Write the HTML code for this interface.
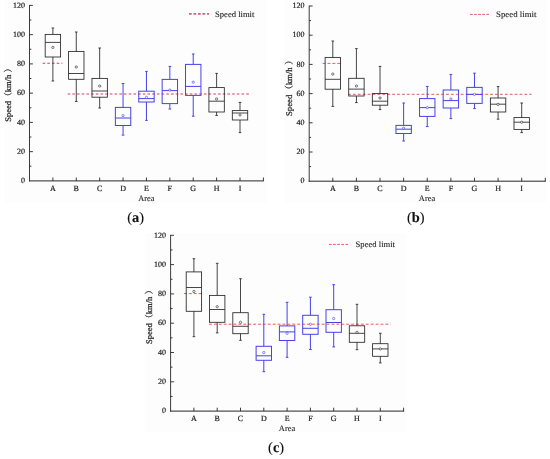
<!DOCTYPE html>
<html lang="en">
<head>
<meta charset="utf-8">
<title>Speed box plots by area</title>
<style>
html,body{margin:0;padding:0;background:#fff;}
body{width:550px;height:459px;overflow:hidden;}
svg{display:block;}
text{font-family:"Liberation Serif","Noto Serif CJK SC",serif;fill:#222;text-rendering:geometricPrecision;}
.tk{font-size:8.0px;stroke:#222;stroke-width:0.2px;}
.lb{font-size:8.4px;stroke:#222;stroke-width:0.1px;}
.yl{stroke-width:0.22px;}
.cp{font-size:14.4px;fill:#111;stroke:#111;stroke-width:0.12px;}
</style>
</head>
<body>
<svg width="550" height="459" viewBox="0 0 550 459">
<rect x="0" y="0" width="550" height="459" fill="#ffffff"/>
<rect x="4" y="0" width="263" height="202.5" fill="#fdfdfd"/>
<rect x="284.5" y="0" width="262" height="202.5" fill="#fdfdfd"/>
<rect x="145" y="233" width="261.5" height="199.5" fill="#fdfdfd"/>
<g class="chart-a">
<line x1="29.50" y1="5.00" x2="29.50" y2="181.40" stroke="#262626" stroke-width="0.9"/>
<line x1="29.00" y1="180.90" x2="263.90" y2="180.90" stroke="#262626" stroke-width="1.0"/>
<text class="tk" x="24.90" y="183.10" text-anchor="end">0</text>
<line x1="29.50" y1="166.28" x2="31.40" y2="166.28" stroke="#262626" stroke-width="0.9"/>
<line x1="29.50" y1="151.65" x2="32.90" y2="151.65" stroke="#262626" stroke-width="0.9"/>
<text class="tk" x="24.90" y="153.85" text-anchor="end">20</text>
<line x1="29.50" y1="137.03" x2="31.40" y2="137.03" stroke="#262626" stroke-width="0.9"/>
<line x1="29.50" y1="122.40" x2="32.90" y2="122.40" stroke="#262626" stroke-width="0.9"/>
<text class="tk" x="24.90" y="124.60" text-anchor="end">40</text>
<line x1="29.50" y1="107.78" x2="31.40" y2="107.78" stroke="#262626" stroke-width="0.9"/>
<line x1="29.50" y1="93.15" x2="32.90" y2="93.15" stroke="#262626" stroke-width="0.9"/>
<text class="tk" x="24.90" y="95.35" text-anchor="end">60</text>
<line x1="29.50" y1="78.53" x2="31.40" y2="78.53" stroke="#262626" stroke-width="0.9"/>
<line x1="29.50" y1="63.90" x2="32.90" y2="63.90" stroke="#262626" stroke-width="0.9"/>
<text class="tk" x="24.90" y="66.10" text-anchor="end">80</text>
<line x1="29.50" y1="49.28" x2="31.40" y2="49.28" stroke="#262626" stroke-width="0.9"/>
<line x1="29.50" y1="34.65" x2="32.90" y2="34.65" stroke="#262626" stroke-width="0.9"/>
<text class="tk" x="24.90" y="36.85" text-anchor="end">100</text>
<line x1="29.50" y1="20.03" x2="31.40" y2="20.03" stroke="#262626" stroke-width="0.9"/>
<line x1="29.50" y1="5.40" x2="32.90" y2="5.40" stroke="#262626" stroke-width="0.9"/>
<text class="tk" x="24.90" y="7.60" text-anchor="end">120</text>
<line x1="52.89" y1="180.90" x2="52.89" y2="177.50" stroke="#262626" stroke-width="0.9"/>
<text class="tk" x="52.89" y="190.80" text-anchor="middle">A</text>
<line x1="76.28" y1="180.90" x2="76.28" y2="177.50" stroke="#262626" stroke-width="0.9"/>
<text class="tk" x="76.28" y="190.80" text-anchor="middle">B</text>
<line x1="99.67" y1="180.90" x2="99.67" y2="177.50" stroke="#262626" stroke-width="0.9"/>
<text class="tk" x="99.67" y="190.80" text-anchor="middle">C</text>
<line x1="123.06" y1="180.90" x2="123.06" y2="177.50" stroke="#262626" stroke-width="0.9"/>
<text class="tk" x="123.06" y="190.80" text-anchor="middle">D</text>
<line x1="146.45" y1="180.90" x2="146.45" y2="177.50" stroke="#262626" stroke-width="0.9"/>
<text class="tk" x="146.45" y="190.80" text-anchor="middle">E</text>
<line x1="169.84" y1="180.90" x2="169.84" y2="177.50" stroke="#262626" stroke-width="0.9"/>
<text class="tk" x="169.84" y="190.80" text-anchor="middle">F</text>
<line x1="193.23" y1="180.90" x2="193.23" y2="177.50" stroke="#262626" stroke-width="0.9"/>
<text class="tk" x="193.23" y="190.80" text-anchor="middle">G</text>
<line x1="216.62" y1="180.90" x2="216.62" y2="177.50" stroke="#262626" stroke-width="0.9"/>
<text class="tk" x="216.62" y="190.80" text-anchor="middle">H</text>
<line x1="240.01" y1="180.90" x2="240.01" y2="177.50" stroke="#262626" stroke-width="0.9"/>
<text class="tk" x="240.01" y="190.80" text-anchor="middle">I</text>
<line x1="263.40" y1="180.90" x2="263.40" y2="177.50" stroke="#262626" stroke-width="0.9"/>
<line x1="42.60" y1="63.20" x2="62.40" y2="63.20" stroke="#d2405e" stroke-width="1.15" stroke-dasharray="2.6 2.1"/>
<line x1="67.60" y1="94.00" x2="250.60" y2="94.00" stroke="#d2405e" stroke-width="1.15" stroke-dasharray="2.6 2.1"/>
<line x1="52.89" y1="28.00" x2="52.89" y2="34.40" stroke="#262626" stroke-width="0.85"/>
<line x1="52.89" y1="57.00" x2="52.89" y2="81.00" stroke="#262626" stroke-width="0.85"/>
<line x1="51.59" y1="28.00" x2="54.19" y2="28.00" stroke="#262626" stroke-width="0.85"/>
<line x1="51.59" y1="81.00" x2="54.19" y2="81.00" stroke="#262626" stroke-width="0.85"/>
<rect x="45.19" y="34.40" width="15.4" height="22.60" fill="none" stroke="#262626" stroke-width="0.85"/>
<line x1="45.19" y1="42.40" x2="60.59" y2="42.40" stroke="#262626" stroke-width="0.85"/>
<circle cx="52.89" cy="47.40" r="1.15" fill="#f6f6f6" stroke="#262626" stroke-width="0.6"/>
<line x1="76.28" y1="32.00" x2="76.28" y2="51.40" stroke="#262626" stroke-width="0.85"/>
<line x1="76.28" y1="79.30" x2="76.28" y2="101.40" stroke="#262626" stroke-width="0.85"/>
<line x1="74.98" y1="32.00" x2="77.58" y2="32.00" stroke="#262626" stroke-width="0.85"/>
<line x1="74.98" y1="101.40" x2="77.58" y2="101.40" stroke="#262626" stroke-width="0.85"/>
<rect x="68.58" y="51.40" width="15.4" height="27.90" fill="none" stroke="#262626" stroke-width="0.85"/>
<line x1="68.58" y1="73.50" x2="83.98" y2="73.50" stroke="#262626" stroke-width="0.85"/>
<circle cx="76.28" cy="67.00" r="1.15" fill="#f6f6f6" stroke="#262626" stroke-width="0.6"/>
<line x1="99.67" y1="48.00" x2="99.67" y2="78.40" stroke="#262626" stroke-width="0.85"/>
<line x1="99.67" y1="97.20" x2="99.67" y2="108.00" stroke="#262626" stroke-width="0.85"/>
<line x1="98.37" y1="48.00" x2="100.97" y2="48.00" stroke="#262626" stroke-width="0.85"/>
<line x1="98.37" y1="108.00" x2="100.97" y2="108.00" stroke="#262626" stroke-width="0.85"/>
<rect x="91.97" y="78.40" width="15.4" height="18.80" fill="none" stroke="#262626" stroke-width="0.85"/>
<line x1="91.97" y1="91.00" x2="107.37" y2="91.00" stroke="#262626" stroke-width="0.85"/>
<circle cx="99.67" cy="86.00" r="1.15" fill="#f6f6f6" stroke="#262626" stroke-width="0.6"/>
<line x1="123.06" y1="83.50" x2="123.06" y2="107.40" stroke="#4742ea" stroke-width="1.0"/>
<line x1="123.06" y1="125.50" x2="123.06" y2="135.10" stroke="#4742ea" stroke-width="1.0"/>
<line x1="121.76" y1="83.50" x2="124.36" y2="83.50" stroke="#4742ea" stroke-width="1.0"/>
<line x1="121.76" y1="135.10" x2="124.36" y2="135.10" stroke="#4742ea" stroke-width="1.0"/>
<rect x="115.36" y="107.40" width="15.4" height="18.10" fill="none" stroke="#4742ea" stroke-width="1.0"/>
<line x1="115.36" y1="118.00" x2="130.76" y2="118.00" stroke="#4742ea" stroke-width="1.0"/>
<circle cx="123.06" cy="115.60" r="1.15" fill="#f6f6f6" stroke="#4742ea" stroke-width="0.6"/>
<line x1="146.45" y1="71.40" x2="146.45" y2="91.20" stroke="#4742ea" stroke-width="1.0"/>
<line x1="146.45" y1="102.00" x2="146.45" y2="120.40" stroke="#4742ea" stroke-width="1.0"/>
<line x1="145.15" y1="71.40" x2="147.75" y2="71.40" stroke="#4742ea" stroke-width="1.0"/>
<line x1="145.15" y1="120.40" x2="147.75" y2="120.40" stroke="#4742ea" stroke-width="1.0"/>
<rect x="138.75" y="91.20" width="15.4" height="10.80" fill="none" stroke="#4742ea" stroke-width="1.0"/>
<line x1="138.75" y1="98.60" x2="154.15" y2="98.60" stroke="#4742ea" stroke-width="1.0"/>
<circle cx="146.45" cy="97.40" r="1.15" fill="#f6f6f6" stroke="#4742ea" stroke-width="0.6"/>
<line x1="169.84" y1="66.40" x2="169.84" y2="79.40" stroke="#4742ea" stroke-width="1.0"/>
<line x1="169.84" y1="103.60" x2="169.84" y2="109.00" stroke="#4742ea" stroke-width="1.0"/>
<line x1="168.54" y1="66.40" x2="171.14" y2="66.40" stroke="#4742ea" stroke-width="1.0"/>
<line x1="168.54" y1="109.00" x2="171.14" y2="109.00" stroke="#4742ea" stroke-width="1.0"/>
<rect x="162.14" y="79.40" width="15.4" height="24.20" fill="none" stroke="#4742ea" stroke-width="1.0"/>
<line x1="162.14" y1="90.60" x2="177.54" y2="90.60" stroke="#4742ea" stroke-width="1.0"/>
<circle cx="169.84" cy="90.00" r="1.15" fill="#f6f6f6" stroke="#4742ea" stroke-width="0.6"/>
<line x1="193.23" y1="54.00" x2="193.23" y2="64.40" stroke="#4742ea" stroke-width="1.0"/>
<line x1="193.23" y1="95.40" x2="193.23" y2="116.20" stroke="#4742ea" stroke-width="1.0"/>
<line x1="191.93" y1="54.00" x2="194.53" y2="54.00" stroke="#4742ea" stroke-width="1.0"/>
<line x1="191.93" y1="116.20" x2="194.53" y2="116.20" stroke="#4742ea" stroke-width="1.0"/>
<rect x="185.53" y="64.40" width="15.4" height="31.00" fill="none" stroke="#4742ea" stroke-width="1.0"/>
<line x1="185.53" y1="86.40" x2="200.93" y2="86.40" stroke="#4742ea" stroke-width="1.0"/>
<circle cx="193.23" cy="82.20" r="1.15" fill="#f6f6f6" stroke="#4742ea" stroke-width="0.6"/>
<line x1="216.62" y1="73.40" x2="216.62" y2="87.60" stroke="#262626" stroke-width="0.85"/>
<line x1="216.62" y1="112.00" x2="216.62" y2="115.40" stroke="#262626" stroke-width="0.85"/>
<line x1="215.32" y1="73.40" x2="217.92" y2="73.40" stroke="#262626" stroke-width="0.85"/>
<line x1="215.32" y1="115.40" x2="217.92" y2="115.40" stroke="#262626" stroke-width="0.85"/>
<rect x="208.92" y="87.60" width="15.4" height="24.40" fill="none" stroke="#262626" stroke-width="0.85"/>
<line x1="208.92" y1="101.20" x2="224.32" y2="101.20" stroke="#262626" stroke-width="0.85"/>
<circle cx="216.62" cy="99.00" r="1.15" fill="#f6f6f6" stroke="#262626" stroke-width="0.6"/>
<line x1="240.01" y1="102.40" x2="240.01" y2="110.60" stroke="#262626" stroke-width="0.85"/>
<line x1="240.01" y1="120.00" x2="240.01" y2="132.60" stroke="#262626" stroke-width="0.85"/>
<line x1="238.71" y1="102.40" x2="241.31" y2="102.40" stroke="#262626" stroke-width="0.85"/>
<line x1="238.71" y1="132.60" x2="241.31" y2="132.60" stroke="#262626" stroke-width="0.85"/>
<rect x="232.31" y="110.60" width="15.4" height="9.40" fill="none" stroke="#262626" stroke-width="0.85"/>
<line x1="232.31" y1="113.00" x2="247.71" y2="113.00" stroke="#262626" stroke-width="0.85"/>
<circle cx="240.01" cy="115.00" r="1.15" fill="#f6f6f6" stroke="#262626" stroke-width="0.6"/>
<line x1="189.00" y1="13.90" x2="209.00" y2="13.90" stroke="#d4607a" stroke-width="1.6" stroke-dasharray="2.7 1.8"/>
<text class="lb" x="215.00" y="16.50" textLength="39.4" lengthAdjust="spacingAndGlyphs">Speed limit</text>
<text class="lb" x="146.30" y="201.00" text-anchor="middle">Area</text>
<text class="lb yl" style="font-size:8.5px" transform="translate(11.30,121.80) rotate(-90)">Speed<tspan dx="0.2">（</tspan>km/h<tspan dx="2.3">）</tspan></text>
<text class="cp" x="135.60" y="221.80" text-anchor="middle">(<tspan font-weight="bold">a</tspan>)</text>
</g>
<g class="chart-b">
<line x1="309.20" y1="5.60" x2="309.20" y2="181.70" stroke="#262626" stroke-width="0.9"/>
<line x1="308.70" y1="181.20" x2="545.80" y2="181.20" stroke="#262626" stroke-width="1.0"/>
<text class="tk" x="304.60" y="183.40" text-anchor="end">0</text>
<line x1="309.20" y1="166.60" x2="311.10" y2="166.60" stroke="#262626" stroke-width="0.9"/>
<line x1="309.20" y1="152.00" x2="312.60" y2="152.00" stroke="#262626" stroke-width="0.9"/>
<text class="tk" x="304.60" y="154.20" text-anchor="end">20</text>
<line x1="309.20" y1="137.40" x2="311.10" y2="137.40" stroke="#262626" stroke-width="0.9"/>
<line x1="309.20" y1="122.80" x2="312.60" y2="122.80" stroke="#262626" stroke-width="0.9"/>
<text class="tk" x="304.60" y="125.00" text-anchor="end">40</text>
<line x1="309.20" y1="108.20" x2="311.10" y2="108.20" stroke="#262626" stroke-width="0.9"/>
<line x1="309.20" y1="93.60" x2="312.60" y2="93.60" stroke="#262626" stroke-width="0.9"/>
<text class="tk" x="304.60" y="95.80" text-anchor="end">60</text>
<line x1="309.20" y1="79.00" x2="311.10" y2="79.00" stroke="#262626" stroke-width="0.9"/>
<line x1="309.20" y1="64.40" x2="312.60" y2="64.40" stroke="#262626" stroke-width="0.9"/>
<text class="tk" x="304.60" y="66.60" text-anchor="end">80</text>
<line x1="309.20" y1="49.80" x2="311.10" y2="49.80" stroke="#262626" stroke-width="0.9"/>
<line x1="309.20" y1="35.20" x2="312.60" y2="35.20" stroke="#262626" stroke-width="0.9"/>
<text class="tk" x="304.60" y="37.40" text-anchor="end">100</text>
<line x1="309.20" y1="20.60" x2="311.10" y2="20.60" stroke="#262626" stroke-width="0.9"/>
<line x1="309.20" y1="6.00" x2="312.60" y2="6.00" stroke="#262626" stroke-width="0.9"/>
<text class="tk" x="304.60" y="8.20" text-anchor="end">120</text>
<line x1="332.81" y1="181.20" x2="332.81" y2="177.80" stroke="#262626" stroke-width="0.9"/>
<text class="tk" x="332.81" y="191.10" text-anchor="middle">A</text>
<line x1="356.42" y1="181.20" x2="356.42" y2="177.80" stroke="#262626" stroke-width="0.9"/>
<text class="tk" x="356.42" y="191.10" text-anchor="middle">B</text>
<line x1="380.03" y1="181.20" x2="380.03" y2="177.80" stroke="#262626" stroke-width="0.9"/>
<text class="tk" x="380.03" y="191.10" text-anchor="middle">C</text>
<line x1="403.64" y1="181.20" x2="403.64" y2="177.80" stroke="#262626" stroke-width="0.9"/>
<text class="tk" x="403.64" y="191.10" text-anchor="middle">D</text>
<line x1="427.25" y1="181.20" x2="427.25" y2="177.80" stroke="#262626" stroke-width="0.9"/>
<text class="tk" x="427.25" y="191.10" text-anchor="middle">E</text>
<line x1="450.86" y1="181.20" x2="450.86" y2="177.80" stroke="#262626" stroke-width="0.9"/>
<text class="tk" x="450.86" y="191.10" text-anchor="middle">F</text>
<line x1="474.47" y1="181.20" x2="474.47" y2="177.80" stroke="#262626" stroke-width="0.9"/>
<text class="tk" x="474.47" y="191.10" text-anchor="middle">G</text>
<line x1="498.08" y1="181.20" x2="498.08" y2="177.80" stroke="#262626" stroke-width="0.9"/>
<text class="tk" x="498.08" y="191.10" text-anchor="middle">H</text>
<line x1="521.69" y1="181.20" x2="521.69" y2="177.80" stroke="#262626" stroke-width="0.9"/>
<text class="tk" x="521.69" y="191.10" text-anchor="middle">I</text>
<line x1="545.30" y1="181.20" x2="545.30" y2="177.80" stroke="#262626" stroke-width="0.9"/>
<line x1="322.60" y1="63.40" x2="342.00" y2="63.40" stroke="#d83a3a" stroke-width="0.8" stroke-dasharray="2.9 2.0"/>
<line x1="348.00" y1="94.30" x2="531.60" y2="94.30" stroke="#d83a3a" stroke-width="0.8" stroke-dasharray="2.9 2.0"/>
<line x1="332.81" y1="41.00" x2="332.81" y2="57.40" stroke="#262626" stroke-width="0.85"/>
<line x1="332.81" y1="89.20" x2="332.81" y2="106.40" stroke="#262626" stroke-width="0.85"/>
<line x1="331.51" y1="41.00" x2="334.11" y2="41.00" stroke="#262626" stroke-width="0.85"/>
<line x1="331.51" y1="106.40" x2="334.11" y2="106.40" stroke="#262626" stroke-width="0.85"/>
<rect x="325.11" y="57.40" width="15.4" height="31.80" fill="none" stroke="#262626" stroke-width="0.85"/>
<line x1="325.11" y1="79.30" x2="340.51" y2="79.30" stroke="#262626" stroke-width="0.85"/>
<circle cx="332.81" cy="74.10" r="1.15" fill="#f6f6f6" stroke="#262626" stroke-width="0.6"/>
<line x1="356.42" y1="48.60" x2="356.42" y2="78.30" stroke="#262626" stroke-width="0.85"/>
<line x1="356.42" y1="96.00" x2="356.42" y2="102.60" stroke="#262626" stroke-width="0.85"/>
<line x1="355.12" y1="48.60" x2="357.72" y2="48.60" stroke="#262626" stroke-width="0.85"/>
<line x1="355.12" y1="102.60" x2="357.72" y2="102.60" stroke="#262626" stroke-width="0.85"/>
<rect x="348.72" y="78.30" width="15.4" height="17.70" fill="none" stroke="#262626" stroke-width="0.85"/>
<line x1="348.72" y1="89.10" x2="364.12" y2="89.10" stroke="#262626" stroke-width="0.85"/>
<circle cx="356.42" cy="86.00" r="1.15" fill="#f6f6f6" stroke="#262626" stroke-width="0.6"/>
<line x1="380.03" y1="66.40" x2="380.03" y2="93.60" stroke="#262626" stroke-width="0.85"/>
<line x1="380.03" y1="105.20" x2="380.03" y2="109.60" stroke="#262626" stroke-width="0.85"/>
<line x1="378.73" y1="66.40" x2="381.33" y2="66.40" stroke="#262626" stroke-width="0.85"/>
<line x1="378.73" y1="109.60" x2="381.33" y2="109.60" stroke="#262626" stroke-width="0.85"/>
<rect x="372.33" y="93.60" width="15.4" height="11.60" fill="none" stroke="#262626" stroke-width="0.85"/>
<line x1="372.33" y1="101.20" x2="387.73" y2="101.20" stroke="#262626" stroke-width="0.85"/>
<circle cx="380.03" cy="98.00" r="1.15" fill="#f6f6f6" stroke="#262626" stroke-width="0.6"/>
<line x1="403.64" y1="103.00" x2="403.64" y2="125.40" stroke="#4742ea" stroke-width="1.0"/>
<line x1="403.64" y1="133.50" x2="403.64" y2="141.00" stroke="#4742ea" stroke-width="1.0"/>
<line x1="402.34" y1="103.00" x2="404.94" y2="103.00" stroke="#4742ea" stroke-width="1.0"/>
<line x1="402.34" y1="141.00" x2="404.94" y2="141.00" stroke="#4742ea" stroke-width="1.0"/>
<rect x="395.94" y="125.40" width="15.4" height="8.10" fill="none" stroke="#4742ea" stroke-width="1.0"/>
<line x1="395.94" y1="129.20" x2="411.34" y2="129.20" stroke="#4742ea" stroke-width="1.0"/>
<circle cx="403.64" cy="128.10" r="1.15" fill="#f6f6f6" stroke="#4742ea" stroke-width="0.6"/>
<line x1="427.25" y1="86.40" x2="427.25" y2="98.60" stroke="#4742ea" stroke-width="1.0"/>
<line x1="427.25" y1="116.40" x2="427.25" y2="126.60" stroke="#4742ea" stroke-width="1.0"/>
<line x1="425.95" y1="86.40" x2="428.55" y2="86.40" stroke="#4742ea" stroke-width="1.0"/>
<line x1="425.95" y1="126.60" x2="428.55" y2="126.60" stroke="#4742ea" stroke-width="1.0"/>
<rect x="419.55" y="98.60" width="15.4" height="17.80" fill="none" stroke="#4742ea" stroke-width="1.0"/>
<line x1="419.55" y1="107.60" x2="434.95" y2="107.60" stroke="#4742ea" stroke-width="1.0"/>
<circle cx="427.25" cy="107.60" r="1.15" fill="#f6f6f6" stroke="#4742ea" stroke-width="0.6"/>
<line x1="450.86" y1="74.40" x2="450.86" y2="90.00" stroke="#4742ea" stroke-width="1.0"/>
<line x1="450.86" y1="108.00" x2="450.86" y2="118.60" stroke="#4742ea" stroke-width="1.0"/>
<line x1="449.56" y1="74.40" x2="452.16" y2="74.40" stroke="#4742ea" stroke-width="1.0"/>
<line x1="449.56" y1="118.60" x2="452.16" y2="118.60" stroke="#4742ea" stroke-width="1.0"/>
<rect x="443.16" y="90.00" width="15.4" height="18.00" fill="none" stroke="#4742ea" stroke-width="1.0"/>
<line x1="443.16" y1="100.60" x2="458.56" y2="100.60" stroke="#4742ea" stroke-width="1.0"/>
<circle cx="450.86" cy="99.00" r="1.15" fill="#f6f6f6" stroke="#4742ea" stroke-width="0.6"/>
<line x1="474.47" y1="73.20" x2="474.47" y2="87.40" stroke="#4742ea" stroke-width="1.0"/>
<line x1="474.47" y1="103.40" x2="474.47" y2="108.60" stroke="#4742ea" stroke-width="1.0"/>
<line x1="473.17" y1="73.20" x2="475.77" y2="73.20" stroke="#4742ea" stroke-width="1.0"/>
<line x1="473.17" y1="108.60" x2="475.77" y2="108.60" stroke="#4742ea" stroke-width="1.0"/>
<rect x="466.77" y="87.40" width="15.4" height="16.00" fill="none" stroke="#4742ea" stroke-width="1.0"/>
<line x1="466.77" y1="94.40" x2="482.17" y2="94.40" stroke="#4742ea" stroke-width="1.0"/>
<circle cx="474.47" cy="94.40" r="1.15" fill="#f6f6f6" stroke="#4742ea" stroke-width="0.6"/>
<line x1="498.08" y1="86.60" x2="498.08" y2="98.00" stroke="#262626" stroke-width="0.85"/>
<line x1="498.08" y1="112.00" x2="498.08" y2="119.20" stroke="#262626" stroke-width="0.85"/>
<line x1="496.78" y1="86.60" x2="499.38" y2="86.60" stroke="#262626" stroke-width="0.85"/>
<line x1="496.78" y1="119.20" x2="499.38" y2="119.20" stroke="#262626" stroke-width="0.85"/>
<rect x="490.38" y="98.00" width="15.4" height="14.00" fill="none" stroke="#262626" stroke-width="0.85"/>
<line x1="490.38" y1="104.20" x2="505.78" y2="104.20" stroke="#262626" stroke-width="0.85"/>
<circle cx="498.08" cy="104.40" r="1.15" fill="#f6f6f6" stroke="#262626" stroke-width="0.6"/>
<line x1="521.69" y1="103.00" x2="521.69" y2="117.60" stroke="#262626" stroke-width="0.85"/>
<line x1="521.69" y1="129.40" x2="521.69" y2="132.60" stroke="#262626" stroke-width="0.85"/>
<line x1="520.39" y1="103.00" x2="522.99" y2="103.00" stroke="#262626" stroke-width="0.85"/>
<line x1="520.39" y1="132.60" x2="522.99" y2="132.60" stroke="#262626" stroke-width="0.85"/>
<rect x="513.99" y="117.60" width="15.4" height="11.80" fill="none" stroke="#262626" stroke-width="0.85"/>
<line x1="513.99" y1="122.20" x2="529.39" y2="122.20" stroke="#262626" stroke-width="0.85"/>
<circle cx="521.69" cy="122.20" r="1.15" fill="#f6f6f6" stroke="#262626" stroke-width="0.6"/>
<line x1="470.00" y1="14.40" x2="489.00" y2="14.40" stroke="#d83a3a" stroke-width="0.8" stroke-dasharray="2.7 1.4"/>
<text class="lb" x="496.00" y="17.30" textLength="40.4" lengthAdjust="spacingAndGlyphs">Speed limit</text>
<text class="lb" x="427.00" y="200.60" text-anchor="middle">Area</text>
<text class="lb yl" style="font-size:8.7px" transform="translate(291.60,116.00) rotate(-90)">Speed<tspan dx="0.8">（</tspan>km/h<tspan dx="2.6">）</tspan></text>
<text class="cp" x="415.70" y="222.00" text-anchor="middle">(<tspan font-weight="bold">b</tspan>)</text>
</g>
<g class="chart-c">
<line x1="170.60" y1="234.90" x2="170.60" y2="411.60" stroke="#262626" stroke-width="0.9"/>
<line x1="170.10" y1="411.10" x2="404.10" y2="411.10" stroke="#262626" stroke-width="1.0"/>
<text class="tk" x="166.00" y="413.30" text-anchor="end">0</text>
<line x1="170.60" y1="396.45" x2="172.50" y2="396.45" stroke="#262626" stroke-width="0.9"/>
<line x1="170.60" y1="381.80" x2="174.00" y2="381.80" stroke="#262626" stroke-width="0.9"/>
<text class="tk" x="166.00" y="384.00" text-anchor="end">20</text>
<line x1="170.60" y1="367.15" x2="172.50" y2="367.15" stroke="#262626" stroke-width="0.9"/>
<line x1="170.60" y1="352.50" x2="174.00" y2="352.50" stroke="#262626" stroke-width="0.9"/>
<text class="tk" x="166.00" y="354.70" text-anchor="end">40</text>
<line x1="170.60" y1="337.85" x2="172.50" y2="337.85" stroke="#262626" stroke-width="0.9"/>
<line x1="170.60" y1="323.20" x2="174.00" y2="323.20" stroke="#262626" stroke-width="0.9"/>
<text class="tk" x="166.00" y="325.40" text-anchor="end">60</text>
<line x1="170.60" y1="308.55" x2="172.50" y2="308.55" stroke="#262626" stroke-width="0.9"/>
<line x1="170.60" y1="293.90" x2="174.00" y2="293.90" stroke="#262626" stroke-width="0.9"/>
<text class="tk" x="166.00" y="296.10" text-anchor="end">80</text>
<line x1="170.60" y1="279.25" x2="172.50" y2="279.25" stroke="#262626" stroke-width="0.9"/>
<line x1="170.60" y1="264.60" x2="174.00" y2="264.60" stroke="#262626" stroke-width="0.9"/>
<text class="tk" x="166.00" y="266.80" text-anchor="end">100</text>
<line x1="170.60" y1="249.95" x2="172.50" y2="249.95" stroke="#262626" stroke-width="0.9"/>
<line x1="170.60" y1="235.30" x2="174.00" y2="235.30" stroke="#262626" stroke-width="0.9"/>
<text class="tk" x="166.00" y="237.50" text-anchor="end">120</text>
<line x1="193.90" y1="411.10" x2="193.90" y2="407.70" stroke="#262626" stroke-width="0.9"/>
<text class="tk" x="193.90" y="421.00" text-anchor="middle">A</text>
<line x1="217.20" y1="411.10" x2="217.20" y2="407.70" stroke="#262626" stroke-width="0.9"/>
<text class="tk" x="217.20" y="421.00" text-anchor="middle">B</text>
<line x1="240.50" y1="411.10" x2="240.50" y2="407.70" stroke="#262626" stroke-width="0.9"/>
<text class="tk" x="240.50" y="421.00" text-anchor="middle">C</text>
<line x1="263.80" y1="411.10" x2="263.80" y2="407.70" stroke="#262626" stroke-width="0.9"/>
<text class="tk" x="263.80" y="421.00" text-anchor="middle">D</text>
<line x1="287.10" y1="411.10" x2="287.10" y2="407.70" stroke="#262626" stroke-width="0.9"/>
<text class="tk" x="287.10" y="421.00" text-anchor="middle">E</text>
<line x1="310.40" y1="411.10" x2="310.40" y2="407.70" stroke="#262626" stroke-width="0.9"/>
<text class="tk" x="310.40" y="421.00" text-anchor="middle">F</text>
<line x1="333.70" y1="411.10" x2="333.70" y2="407.70" stroke="#262626" stroke-width="0.9"/>
<text class="tk" x="333.70" y="421.00" text-anchor="middle">G</text>
<line x1="357.00" y1="411.10" x2="357.00" y2="407.70" stroke="#262626" stroke-width="0.9"/>
<text class="tk" x="357.00" y="421.00" text-anchor="middle">H</text>
<line x1="380.30" y1="411.10" x2="380.30" y2="407.70" stroke="#262626" stroke-width="0.9"/>
<text class="tk" x="380.30" y="421.00" text-anchor="middle">I</text>
<line x1="403.60" y1="411.10" x2="403.60" y2="407.70" stroke="#262626" stroke-width="0.9"/>
<line x1="184.00" y1="293.60" x2="203.00" y2="293.60" stroke="#f03030" stroke-width="0.8" stroke-dasharray="2.9 2.0"/>
<line x1="209.00" y1="324.20" x2="390.60" y2="324.20" stroke="#f03030" stroke-width="0.8" stroke-dasharray="2.9 2.0"/>
<line x1="193.90" y1="258.70" x2="193.90" y2="271.90" stroke="#262626" stroke-width="0.85"/>
<line x1="193.90" y1="311.30" x2="193.90" y2="336.70" stroke="#262626" stroke-width="0.85"/>
<line x1="192.60" y1="258.70" x2="195.20" y2="258.70" stroke="#262626" stroke-width="0.85"/>
<line x1="192.60" y1="336.70" x2="195.20" y2="336.70" stroke="#262626" stroke-width="0.85"/>
<rect x="186.20" y="271.90" width="15.4" height="39.40" fill="none" stroke="#262626" stroke-width="0.85"/>
<line x1="186.20" y1="287.50" x2="201.60" y2="287.50" stroke="#262626" stroke-width="0.85"/>
<circle cx="193.90" cy="291.50" r="1.15" fill="#f6f6f6" stroke="#262626" stroke-width="0.6"/>
<line x1="217.20" y1="263.30" x2="217.20" y2="295.40" stroke="#262626" stroke-width="0.85"/>
<line x1="217.20" y1="322.30" x2="217.20" y2="332.90" stroke="#262626" stroke-width="0.85"/>
<line x1="215.90" y1="263.30" x2="218.50" y2="263.30" stroke="#262626" stroke-width="0.85"/>
<line x1="215.90" y1="332.90" x2="218.50" y2="332.90" stroke="#262626" stroke-width="0.85"/>
<rect x="209.50" y="295.40" width="15.4" height="26.90" fill="none" stroke="#262626" stroke-width="0.85"/>
<line x1="209.50" y1="309.50" x2="224.90" y2="309.50" stroke="#262626" stroke-width="0.85"/>
<circle cx="217.20" cy="306.70" r="1.15" fill="#f6f6f6" stroke="#262626" stroke-width="0.6"/>
<line x1="240.50" y1="278.70" x2="240.50" y2="312.70" stroke="#262626" stroke-width="0.85"/>
<line x1="240.50" y1="333.70" x2="240.50" y2="340.30" stroke="#262626" stroke-width="0.85"/>
<line x1="239.20" y1="278.70" x2="241.80" y2="278.70" stroke="#262626" stroke-width="0.85"/>
<line x1="239.20" y1="340.30" x2="241.80" y2="340.30" stroke="#262626" stroke-width="0.85"/>
<rect x="232.80" y="312.70" width="15.4" height="21.00" fill="none" stroke="#262626" stroke-width="0.85"/>
<line x1="232.80" y1="326.30" x2="248.20" y2="326.30" stroke="#262626" stroke-width="0.85"/>
<circle cx="240.50" cy="322.30" r="1.15" fill="#f6f6f6" stroke="#262626" stroke-width="0.6"/>
<line x1="263.80" y1="314.30" x2="263.80" y2="346.30" stroke="#4742ea" stroke-width="1.0"/>
<line x1="263.80" y1="360.30" x2="263.80" y2="371.70" stroke="#4742ea" stroke-width="1.0"/>
<line x1="262.50" y1="314.30" x2="265.10" y2="314.30" stroke="#4742ea" stroke-width="1.0"/>
<line x1="262.50" y1="371.70" x2="265.10" y2="371.70" stroke="#4742ea" stroke-width="1.0"/>
<rect x="256.10" y="346.30" width="15.4" height="14.00" fill="none" stroke="#4742ea" stroke-width="1.0"/>
<line x1="256.10" y1="355.80" x2="271.50" y2="355.80" stroke="#4742ea" stroke-width="1.0"/>
<circle cx="263.80" cy="352.50" r="1.15" fill="#f6f6f6" stroke="#4742ea" stroke-width="0.6"/>
<line x1="287.10" y1="302.30" x2="287.10" y2="325.90" stroke="#4742ea" stroke-width="1.0"/>
<line x1="287.10" y1="340.50" x2="287.10" y2="357.30" stroke="#4742ea" stroke-width="1.0"/>
<line x1="285.80" y1="302.30" x2="288.40" y2="302.30" stroke="#4742ea" stroke-width="1.0"/>
<line x1="285.80" y1="357.30" x2="288.40" y2="357.30" stroke="#4742ea" stroke-width="1.0"/>
<rect x="279.40" y="325.90" width="15.4" height="14.60" fill="none" stroke="#4742ea" stroke-width="1.0"/>
<line x1="279.40" y1="331.90" x2="294.80" y2="331.90" stroke="#4742ea" stroke-width="1.0"/>
<circle cx="287.10" cy="333.30" r="1.15" fill="#f6f6f6" stroke="#4742ea" stroke-width="0.6"/>
<line x1="310.40" y1="297.20" x2="310.40" y2="315.30" stroke="#4742ea" stroke-width="1.0"/>
<line x1="310.40" y1="334.30" x2="310.40" y2="349.50" stroke="#4742ea" stroke-width="1.0"/>
<line x1="309.10" y1="297.20" x2="311.70" y2="297.20" stroke="#4742ea" stroke-width="1.0"/>
<line x1="309.10" y1="349.50" x2="311.70" y2="349.50" stroke="#4742ea" stroke-width="1.0"/>
<rect x="302.70" y="315.30" width="15.4" height="19.00" fill="none" stroke="#4742ea" stroke-width="1.0"/>
<line x1="302.70" y1="328.30" x2="318.10" y2="328.30" stroke="#4742ea" stroke-width="1.0"/>
<circle cx="310.40" cy="324.30" r="1.15" fill="#f6f6f6" stroke="#4742ea" stroke-width="0.6"/>
<line x1="333.70" y1="284.70" x2="333.70" y2="309.70" stroke="#4742ea" stroke-width="1.0"/>
<line x1="333.70" y1="332.30" x2="333.70" y2="346.90" stroke="#4742ea" stroke-width="1.0"/>
<line x1="332.40" y1="284.70" x2="335.00" y2="284.70" stroke="#4742ea" stroke-width="1.0"/>
<line x1="332.40" y1="346.90" x2="335.00" y2="346.90" stroke="#4742ea" stroke-width="1.0"/>
<rect x="326.00" y="309.70" width="15.4" height="22.60" fill="none" stroke="#4742ea" stroke-width="1.0"/>
<line x1="326.00" y1="322.50" x2="341.40" y2="322.50" stroke="#4742ea" stroke-width="1.0"/>
<circle cx="333.70" cy="318.50" r="1.15" fill="#f6f6f6" stroke="#4742ea" stroke-width="0.6"/>
<line x1="357.00" y1="304.30" x2="357.00" y2="325.80" stroke="#262626" stroke-width="0.85"/>
<line x1="357.00" y1="342.30" x2="357.00" y2="349.70" stroke="#262626" stroke-width="0.85"/>
<line x1="355.70" y1="304.30" x2="358.30" y2="304.30" stroke="#262626" stroke-width="0.85"/>
<line x1="355.70" y1="349.70" x2="358.30" y2="349.70" stroke="#262626" stroke-width="0.85"/>
<rect x="349.30" y="325.80" width="15.4" height="16.50" fill="none" stroke="#262626" stroke-width="0.85"/>
<line x1="349.30" y1="333.30" x2="364.70" y2="333.30" stroke="#262626" stroke-width="0.85"/>
<circle cx="357.00" cy="332.30" r="1.15" fill="#f6f6f6" stroke="#262626" stroke-width="0.6"/>
<line x1="380.30" y1="333.30" x2="380.30" y2="343.70" stroke="#262626" stroke-width="0.85"/>
<line x1="380.30" y1="356.30" x2="380.30" y2="362.90" stroke="#262626" stroke-width="0.85"/>
<line x1="379.00" y1="333.30" x2="381.60" y2="333.30" stroke="#262626" stroke-width="0.85"/>
<line x1="379.00" y1="362.90" x2="381.60" y2="362.90" stroke="#262626" stroke-width="0.85"/>
<rect x="372.60" y="343.70" width="15.4" height="12.60" fill="none" stroke="#262626" stroke-width="0.85"/>
<line x1="372.60" y1="348.90" x2="388.00" y2="348.90" stroke="#262626" stroke-width="0.85"/>
<circle cx="380.30" cy="348.90" r="1.15" fill="#f6f6f6" stroke="#262626" stroke-width="0.6"/>
<line x1="329.00" y1="244.40" x2="349.00" y2="244.40" stroke="#f03030" stroke-width="0.8" stroke-dasharray="2.7 1.4"/>
<text class="lb" x="355.60" y="247.30" textLength="39.4" lengthAdjust="spacingAndGlyphs">Speed limit</text>
<text class="lb" x="287.00" y="431.00" text-anchor="middle">Area</text>
<text class="lb yl" style="font-size:8.5px" transform="translate(152.40,343.90) rotate(-90)">Speed<tspan dx="0.4">（</tspan>km/h<tspan dx="2.5">）</tspan></text>
<text class="cp" x="276.10" y="451.70" text-anchor="middle">(<tspan font-weight="bold">c</tspan>)</text>
</g>
</svg>
</body>
</html>
